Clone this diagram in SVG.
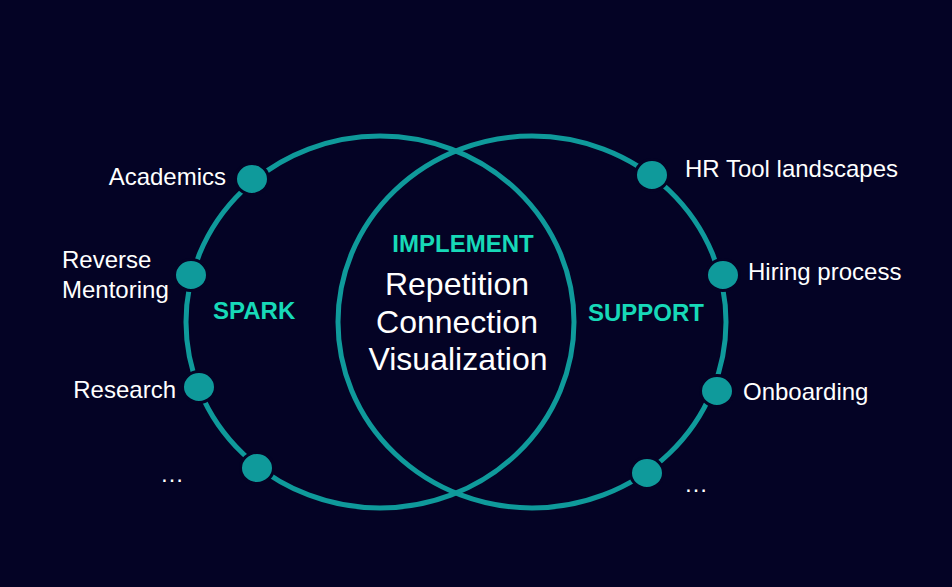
<svg xmlns="http://www.w3.org/2000/svg" width="952" height="587" viewBox="0 0 952 587">
<style>
.ring{fill:none;stroke:#0f9a9b;stroke-width:5}
.dot{fill:#0f9a9b;stroke:#040325;stroke-width:3}
.lbl{font-family:"Liberation Sans",Arial,sans-serif;font-size:24px;fill:#ffffff}
.head{font-family:"Liberation Sans",Arial,sans-serif;font-size:24px;font-weight:bold;fill:#17d9b8}
.core{font-family:"Liberation Sans",Arial,sans-serif;font-size:32px;fill:#ffffff;text-anchor:middle}
</style>
<rect width="952" height="587" fill="#040325"/>
<g id="connectors">
<ellipse class="ring" cx="380" cy="322" rx="194" ry="186"/>
<ellipse class="ring" cx="532" cy="322" rx="194" ry="186"/>
</g>
<g id="implement">
<text class="head" x="463" y="252" text-anchor="middle">IMPLEMENT</text>
<text class="core" x="457" y="295">Repetition</text>
<text class="core" x="457" y="333">Connection</text>
<text class="core" x="458" y="370">Visualization</text>
</g>
<g id="spark"><text class="head" x="213" y="319">SPARK</text></g>
<g id="support"><text class="head" x="588" y="321">SUPPORT</text></g>
<g id="academics"><ellipse class="dot" cx="252" cy="179" rx="16.5" ry="15.5"/><text class="lbl" x="226" y="185" text-anchor="end">Academics</text></g>
<g id="reverse-mentoring"><ellipse class="dot" cx="191" cy="275" rx="16.5" ry="15.5"/><text class="lbl" x="62" y="268">Reverse</text><text class="lbl" x="62" y="298">Mentoring</text></g>
<g id="research"><ellipse class="dot" cx="199" cy="387" rx="16.5" ry="15.5"/><text class="lbl" x="176" y="398" text-anchor="end">Research</text></g>
<g id="left-more"><ellipse class="dot" cx="257" cy="468" rx="16.5" ry="15.5"/><text class="lbl" x="172" y="482" text-anchor="middle">…</text></g>
<g id="hr-tool"><ellipse class="dot" cx="652" cy="175" rx="16.5" ry="15.5"/><text class="lbl" x="685" y="177">HR Tool landscapes</text></g>
<g id="hiring"><ellipse class="dot" cx="723" cy="275" rx="16.5" ry="15.5"/><text class="lbl" x="748" y="280">Hiring process</text></g>
<g id="onboarding"><ellipse class="dot" cx="717" cy="391" rx="16.5" ry="15.5"/><text class="lbl" x="743" y="400">Onboarding</text></g>
<g id="right-more"><ellipse class="dot" cx="647" cy="473" rx="16.5" ry="15.5"/><text class="lbl" x="696" y="492" text-anchor="middle">…</text></g>
</svg>
